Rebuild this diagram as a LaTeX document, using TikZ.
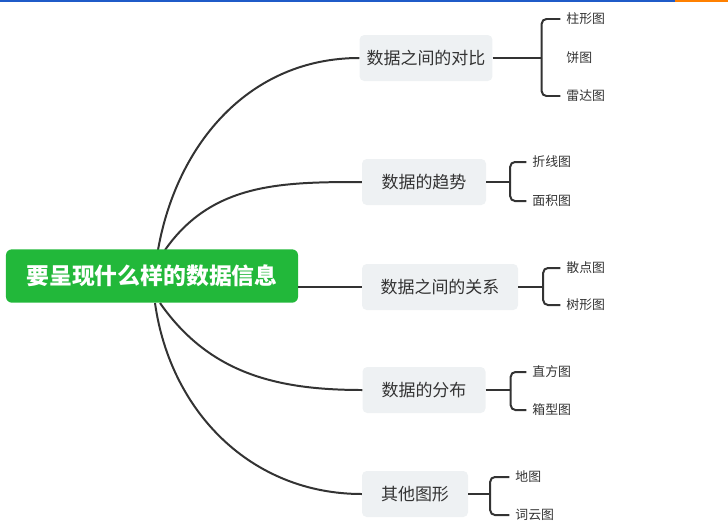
\documentclass[tikz,border=0pt]{standalone}
\usepackage{fontspec}
\setmainfont{Noto Sans CJK SC}
\usetikzlibrary{positioning}
\definecolor{rootgreen}{HTML}{22B83A}
\definecolor{boxgray}{HTML}{EEF1F3}
\definecolor{topblue}{HTML}{1F5BC8}
\tikzstyle{root} = [rectangle, rounded corners=5pt, fill=rootgreen, text=white, font=\fontsize{19.5}{22}\selectfont\bfseries, minimum width=8.76cm, minimum height=1.6cm]
\tikzstyle{topic} = [rectangle, rounded corners=4pt, fill=boxgray, text=black!80, font=\fontsize{14.5}{16}\selectfont, minimum height=1.38cm, inner xsep=6pt]
\tikzstyle{leaf} = [anchor=west, inner sep=1pt, text=black!80, font=\fontsize{11}{13}\selectfont]
\tikzstyle{link} = [line width=1.7pt, black!80]
\tikzstyle{brace} = [line width=1.7pt, black!80, rounded corners=4pt]

\begin{document}
\begin{tikzpicture}[x=0.03cm, y=-0.03cm]
	
	\useasboundingbox (0,0) rectangle (728,527);
	\fill[topblue] (0,0) rectangle (675,2);
	\fill[orange] (675,0) rectangle (728,2);
	
	% curved links from the root
	\coordinate (r1) at (158,250);
	\coordinate (r2) at (165,250);
	\coordinate (r4) at (160,303);
	\coordinate (r5) at (155,303);
	
	\node (t1) [topic, minimum width=3.84cm] at (426,58) {数据之间的对比};
	\node (t2) [topic, minimum width=3.72cm] at (424,182) {数据的趋势};
	\node (t3) [topic, minimum width=4.68cm] at (440,287) {数据之间的关系};
	\node (t4) [topic, minimum width=3.69cm] at (424,390) {数据的分布};
	\node (t5) [topic, minimum width=3.18cm] at (415,494) {其他图形};
	
	\draw[link] (r1) to[out=80, in=180] (t1.west);
	\draw[link] (r2) to[out=55, in=180] (t2.west);
	\draw[link] (r4) to[out=-55, in=180] (t4.west);
	\draw[link] (r5) to[out=-82, in=180] (t5.west);
	
	\node (root) [root] at (152,276) {要呈现什么样的数据信息};
	\draw[link] (root.east |- t3.west) -- (t3.west);
	
	\node (l11) [leaf] at (565,19) {柱形图};
	\node (l12) [leaf] at (565,58) {饼图};
	\node (l13) [leaf] at (565,96) {雷达图};
	\node (l21) [leaf] at (531,162) {折线图};
	\node (l22) [leaf] at (531,201) {面积图};
	\node (l31) [leaf] at (565,268) {散点图};
	\node (l32) [leaf] at (565,305) {树形图};
	\node (l41) [leaf] at (531,372) {直方图};
	\node (l42) [leaf] at (531,410) {箱型图};
	\node (l51) [leaf] at (514,477) {地图};
	\node (l52) [leaf] at (514,515) {词云图};
	
	% braces to the leaves
	\draw[link] (t1.east) -- ++(49,0) coordinate (k1);
	\draw[link] (t2.east) -- ++(24,0) coordinate (k2);
	\draw[link] (t3.east) -- ++(25,0) coordinate (k3);
	\draw[link] (t4.east) -- ++(25,0) coordinate (k4);
	\draw[link] (t5.east) -- ++(22,0) coordinate (k5);
	\draw[brace] (k1) |- ([xshift=-4pt]l11.west);
	\draw[brace] (k1) |- ([xshift=-4pt]l13.west);
	\draw[brace] (k2) |- ([xshift=-4pt]l21.west);
	\draw[brace] (k2) |- ([xshift=-4pt]l22.west);
	\draw[brace] (k3) |- ([xshift=-4pt]l31.west);
	\draw[brace] (k3) |- ([xshift=-4pt]l32.west);
	\draw[brace] (k4) |- ([xshift=-4pt]l41.west);
	\draw[brace] (k4) |- ([xshift=-4pt]l42.west);
	\draw[brace] (k5) |- ([xshift=-4pt]l51.west);
	\draw[brace] (k5) |- ([xshift=-4pt]l52.west);
	
\end{tikzpicture}
\end{document}
